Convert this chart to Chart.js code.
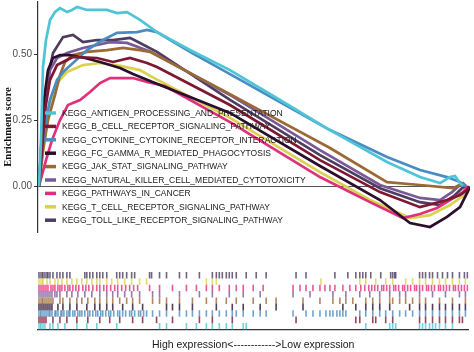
<!DOCTYPE html>
<html>
<head>
<meta charset="utf-8">
<script src="https://cdn.jsdelivr.net/npm/chart.js@4"></script>
<style>
  html, body { margin: 0; padding: 0; background: #fff; }
  #wrap { position: relative; width: 474px; height: 352px; }
  canvas { position: absolute; left: 0; }
  #es { top: 0; }
  #rug { top: 240px; }
</style>
</head>
<body>
<div id="wrap">
  <canvas id="es" width="474" height="240"></canvas>
  <canvas id="rug" width="474" height="112"></canvas>
</div>
<script>
Chart.defaults.animation = false;

// pathways, in legend order
const pathways = [
  'KEGG_ANTIGEN_PROCESSING_AND_PRESENTATION',
  'KEGG_B_CELL_RECEPTOR_SIGNALING_PATHWAY',
  'KEGG_CYTOKINE_CYTOKINE_RECEPTOR_INTERACTION',
  'KEGG_FC_GAMMA_R_MEDIATED_PHAGOCYTOSIS',
  'KEGG_JAK_STAT_SIGNALING_PATHWAY',
  'KEGG_NATURAL_KILLER_CELL_MEDIATED_CYTOTOXICITY',
  'KEGG_PATHWAYS_IN_CANCER',
  'KEGG_T_CELL_RECEPTOR_SIGNALING_PATHWAY',
  'KEGG_TOLL_LIKE_RECEPTOR_SIGNALING_PATHWAY',
];
const colors = ['#4ec5d6', '#7d1833', '#4a8cc2', '#2b0e2c', '#9b6a34', '#785a98', '#e0307c', '#d9d24c', '#4e3d5f'];

const yTicks = [0, 0.25, 0.5];
const rankMax = 432;

// running enrichment score, rank position / ES
const antigenRank = [1, 3, 5, 8, 12, 17, 22, 29, 34, 39, 49, 59, 69, 79, 89, 102, 119, 152, 192, 242, 292, 349, 382, 402, 412, 417, 422, 425];
const antigenES = [0, 0.174, 0.451, 0.553, 0.629, 0.659, 0.674, 0.659, 0.667, 0.678, 0.667, 0.667, 0.667, 0.655, 0.659, 0.629, 0.583, 0.515, 0.439, 0.326, 0.212, 0.091, 0.034, 0.011, 0.034, 0.038, 0.011, 0];

const bcellRank = [1, 4, 7, 12, 19, 35, 59, 75, 92, 109, 119, 192, 282, 342, 382, 409, 422, 429, 431];
const bcellES = [0, 0.136, 0.288, 0.402, 0.458, 0.489, 0.485, 0.47, 0.485, 0.466, 0.451, 0.307, 0.098, -0.023, -0.08, -0.053, -0.034, -0.015, 0];

const cytokineRank = [1, 4, 8, 12, 19, 27, 35, 49, 65, 79, 99, 109, 119, 152, 192, 242, 292, 349, 382, 409, 422, 428];
const cytokineES = [0, 0.136, 0.25, 0.326, 0.402, 0.439, 0.466, 0.515, 0.553, 0.58, 0.583, 0.591, 0.583, 0.508, 0.424, 0.318, 0.212, 0.11, 0.061, 0.034, 0.015, 0];

const fcRank = [1, 3, 6, 10, 15, 22, 32, 47, 62, 82, 95, 112, 192, 282, 342, 372, 392, 409, 422, 428, 432];
const fcES = [0, 0.136, 0.326, 0.439, 0.485, 0.496, 0.496, 0.485, 0.47, 0.447, 0.424, 0.398, 0.277, 0.076, -0.053, -0.14, -0.155, -0.117, -0.08, -0.034, -0.004];

const jakRank = [1, 5, 10, 17, 22, 27, 35, 49, 69, 85, 102, 112, 192, 292, 349, 382, 415, 425, 428];
const jakES = [0, 0.136, 0.25, 0.345, 0.42, 0.47, 0.496, 0.508, 0.515, 0.523, 0.515, 0.508, 0.348, 0.144, 0.015, 0.004, -0.008, 0.011, 0];

const nkRank = [1, 4, 8, 12, 19, 29, 45, 72, 89, 112, 192, 282, 342, 382, 402, 414, 422, 428];
const nkES = [0, 0.136, 0.326, 0.439, 0.485, 0.504, 0.523, 0.545, 0.542, 0.51, 0.345, 0.136, 0.004, -0.045, -0.053, -0.023, 0.004, 0];

const cancerRank = [1, 4, 8, 14, 22, 30, 42, 52, 62, 72, 95, 109, 127, 192, 282, 332, 365, 382, 399, 425, 430];
const cancerES = [0, 0.042, 0.098, 0.174, 0.25, 0.307, 0.326, 0.356, 0.39, 0.409, 0.409, 0.394, 0.379, 0.242, 0.034, -0.061, -0.121, -0.106, -0.083, -0.023, 0];

const tcellRank = [1, 4, 8, 12, 19, 29, 45, 62, 82, 102, 112, 192, 282, 332, 372, 392, 412, 429, 432];
const tcellES = [0, 0.098, 0.212, 0.288, 0.39, 0.432, 0.458, 0.466, 0.455, 0.439, 0.417, 0.258, 0.053, -0.053, -0.121, -0.11, -0.072, -0.027, 0];

const tollRank = [1, 4, 7, 9, 15, 25, 35, 45, 59, 75, 92, 102, 119, 192, 282, 342, 382, 402, 417, 424, 428];
const tollES = [0, 0.174, 0.326, 0.39, 0.504, 0.564, 0.572, 0.545, 0.553, 0.553, 0.561, 0.542, 0.508, 0.326, 0.117, -0.008, -0.061, -0.072, -0.034, -0.008, 0];

// hit positions in the ranked list (bottom strip)
const antigenHits = [0, 2, 3, 5, 7, 12, 15, 20, 27, 39, 49, 59, 79, 122, 129, 149, 159, 169, 175, 182, 189, 195, 206, 209, 329, 353, 356, 359, 383, 386, 389, 393, 396, 399, 403, 409, 416];
const bcellHits = [0, 2, 4, 6, 8, 15, 22, 29, 39, 50, 62, 72, 82, 95, 105, 119, 135, 162, 175, 195, 259, 319, 323, 336, 339, 349, 356, 383, 389, 396, 403, 409, 416, 423, 426];
const cytokineHits = [0, 2, 3, 5, 7, 9, 11, 12, 14, 17, 18, 20, 23, 24, 26, 29, 31, 32, 35, 37, 40, 42, 44, 47, 50, 52, 55, 58, 60, 63, 65, 68, 71, 73, 76, 80, 82, 85, 88, 92, 94, 97, 101, 103, 106, 109, 115, 122, 129, 142, 149, 155, 162, 169, 175, 182, 189, 195, 199, 206, 216, 223, 229, 256, 269, 276, 283, 289, 293, 296, 300, 303, 306, 309, 323, 329, 336, 343, 349, 356, 363, 369, 376, 383, 389, 396, 403, 409, 416, 423, 429];
const fcHits = [0, 2, 4, 6, 8, 10, 12, 14, 20, 25, 32, 39, 49, 57, 62, 69, 75, 85, 95, 105, 129, 135, 142, 155, 179, 195, 206, 223, 239, 266, 306, 319, 329, 336, 343, 353, 373, 383, 389, 396, 403, 409, 416, 423, 429];
const jakHits = [0, 2, 4, 5, 7, 9, 11, 13, 15, 22, 25, 32, 39, 44, 50, 57, 62, 69, 75, 82, 89, 95, 102, 115, 122, 129, 142, 155, 169, 179, 189, 199, 216, 229, 239, 266, 283, 296, 303, 309, 316, 329, 336, 343, 353, 356, 363, 369, 376, 383, 389, 403, 416, 429];
const nkHits = [0, 2, 4, 6, 8, 10, 12, 14, 17, 19, 22, 29, 34, 40, 47, 54, 62, 69, 75, 80, 87, 94, 102, 115, 122, 142, 162, 175, 192, 206, 223, 256, 273, 296, 309, 323, 333, 343, 353, 363, 369, 383, 396, 409, 423, 429];
const cancerHits = [0, 2, 4, 6, 8, 10, 13, 15, 17, 20, 22, 24, 27, 30, 32, 35, 38, 41, 45, 48, 51, 55, 59, 62, 66, 69, 73, 77, 80, 84, 88, 92, 96, 100, 112, 122, 135, 149, 159, 169, 175, 182, 192, 199, 206, 216, 226, 256, 263, 269, 276, 283, 288, 293, 298, 306, 313, 319, 324, 328, 332, 335, 338, 341, 345, 347, 350, 353, 357, 359, 362, 366, 368, 371, 374, 378, 380, 383, 386, 390, 392, 395, 398, 402, 404, 407, 410, 413, 417, 419, 422, 425, 428, 431];
const tcellHits = [0, 2, 4, 5, 9, 12, 17, 20, 24, 29, 34, 39, 44, 49, 54, 59, 62, 69, 74, 80, 87, 94, 102, 109, 169, 175, 179, 284, 323, 329, 339, 349, 356, 369, 376, 383, 389, 396, 403, 409, 416, 423, 429];
const tollHits = [0, 2, 4, 5, 7, 9, 10, 12, 15, 19, 22, 25, 29, 32, 47, 49, 52, 55, 59, 62, 65, 69, 79, 82, 85, 89, 94, 97, 112, 114, 122, 129, 142, 149, 162, 175, 179, 182, 185, 189, 192, 195, 199, 209, 219, 229, 259, 269, 298, 311, 319, 323, 326, 329, 334, 344, 354, 356, 358, 359, 383, 386, 389, 393, 396, 401, 406, 411, 416, 423, 428, 431];

const esRanks = [antigenRank, bcellRank, cytokineRank, fcRank, jakRank, nkRank, cancerRank, tcellRank, tollRank];
const esValues = [antigenES, bcellES, cytokineES, fcES, jakES, nkES, cancerES, tcellES, tollES];
const hitLists = [antigenHits, bcellHits, cytokineHits, fcHits, jakHits, nkHits, cancerHits, tcellHits, tollHits];

function alpha(hex, a) {
  const n = parseInt(hex.slice(1), 16);
  return `rgba(${(n >> 16) & 255},${(n >> 8) & 255},${n & 255},${a})`;
}

// legend drawn inside the plot, below the curves
const insideLegend = {
  id: 'insideLegend',
  afterDatasetsDraw(chart, args, o) {
    const ctx = chart.ctx;
    ctx.save();
    ctx.font = `${o.size}px "Liberation Sans", Arial, sans-serif`;
    ctx.textBaseline = 'middle';
    chart.data.datasets.forEach((d, i) => {
      const y = o.top + i * o.step;
      ctx.strokeStyle = d.borderColor;
      ctx.lineWidth = 3.5;
      ctx.beginPath();
      ctx.moveTo(o.left, y);
      ctx.lineTo(o.left + 11, y);
      ctx.stroke();
      ctx.fillStyle = '#1a1a1a';
      ctx.fillText(d.label, o.left + 17, y + 0.5);
    });
    ctx.restore();
  },
};

// y tick marks + labels and the rotated axis title, placed from the y scale
const yAxisText = {
  id: 'yAxisText',
  afterDraw(chart, args, o) {
    const ctx = chart.ctx;
    const y = chart.scales.y;
    const left = chart.chartArea.left;
    ctx.save();
    ctx.strokeStyle = '#333';
    ctx.lineWidth = 1;
    ctx.fillStyle = '#4d4d4d';
    ctx.font = '10px "Liberation Sans", Arial, sans-serif';
    ctx.textAlign = 'right';
    ctx.textBaseline = 'middle';
    yTicks.forEach(v => {
      const py = Math.round(y.getPixelForValue(v)) + 0.5;
      ctx.beginPath();
      ctx.moveTo(left - 4, py);
      ctx.lineTo(left, py);
      ctx.stroke();
      ctx.fillText(v.toFixed(2), left - 6, py);
    });
    ctx.translate(o.x, o.y);
    ctx.rotate(-Math.PI / 2);
    ctx.font = 'bold 10.5px "Liberation Serif", "Times New Roman", serif';
    ctx.fillStyle = '#111';
    ctx.textAlign = 'center';
    ctx.fillText(o.text, 0, 0);
    ctx.restore();
  },
};

new Chart(document.getElementById('es'), {
  type: 'line',
  data: {
    datasets: pathways.map((p, i) => ({
      label: p,
      data: esRanks[i].map((r, j) => ({ x: r, y: esValues[i][j] })),
      borderColor: colors[i],
      borderWidth: 2.7,
      pointRadius: 0,
      tension: 0,
      fill: false,
    })),
  },
  options: {
    responsive: false,
    layout: { padding: { top: 2, right: 4, bottom: 8, left: 0 } },
    plugins: {
      legend: { display: false },
      tooltip: { enabled: false },
      insideLegend: { left: 45, top: 113, step: 13.4, size: 8.5 },
      yAxisText: { x: 8, y: 127, text: 'Enrichment score' },
    },
    scales: {
      x: { type: 'linear', min: 0, max: rankMax, display: false },
      y: {
        z: 1,
        min: -0.174, max: 0.697,
        afterFit: s => { s.width = 38; s.paddingTop = 0; s.paddingBottom = 0; },
        ticks: { display: false, stepSize: 0.25 },
        grid: {
          drawTicks: false,
          color: c => c.tick && Math.abs(c.tick.value) < 1e-6 ? '#555' : 'rgba(0,0,0,0)',
          lineWidth: 1,
        },
        border: { display: true, color: '#333', width: 1.2 },
      },
    },
  },
  plugins: [insideLegend, yAxisText],
});

// hit strip: one row per pathway, antigen at the bottom
new Chart(document.getElementById('rug'), {
  type: 'scatter',
  data: {
    datasets: pathways.map((p, i) => ({
      label: p,
      data: hitLists[i].map(h => ({ x: h, y: i + 1 })),
      pointStyle: 'line',
      rotation: 90,
      radius: 3.3,
      borderWidth: 1.6,
      borderColor: alpha(colors[i], 0.8),
      backgroundColor: alpha(colors[i], 0.8),
    })),
  },
  options: {
    responsive: false,
    layout: { padding: { top: 32, right: 4, bottom: 1, left: 38 } },
    plugins: { legend: { display: false }, tooltip: { enabled: false } },
    scales: {
      x: {
        type: 'linear', min: 0, max: rankMax,
        ticks: { display: false },
        grid: { display: false },
        border: { display: true, color: '#333', width: 1.2 },
        title: {
          display: true,
          text: 'High expression<------------>Low expression',
          color: '#1a1a1a',
          font: { size: 10.5, family: '"Liberation Sans", Arial' },
          padding: { top: 1, bottom: 0 },
        },
      },
      y: { display: false, min: 0.5, max: 9.5 },
    },
  },
});
</script>
</body>
</html>
